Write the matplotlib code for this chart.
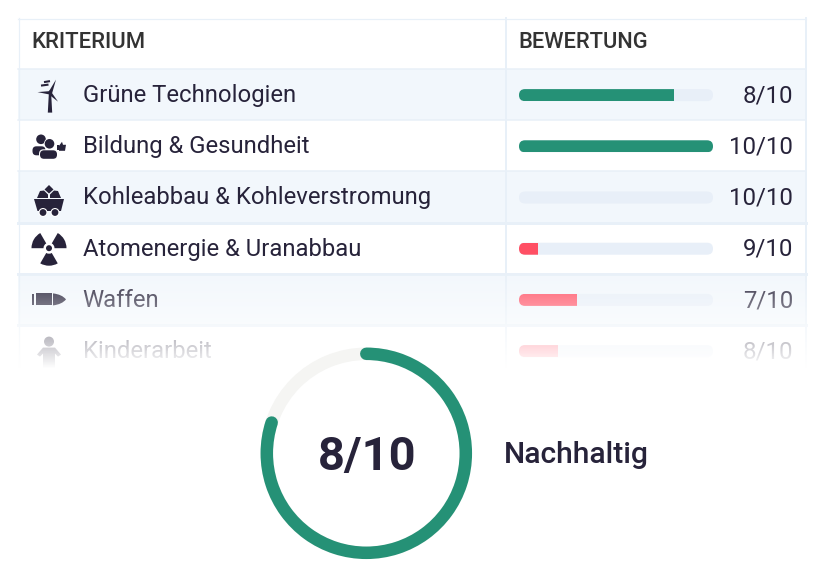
import numpy as np
import matplotlib
matplotlib.use('Agg')
import matplotlib.pyplot as plt
from matplotlib.patches import Arc, Circle, FancyBboxPatch, PathPatch, Polygon, Rectangle, Wedge
from matplotlib.path import Path

plt.rcParams['font.family'] = ['Roboto', 'DejaVu Sans']

criteria = ['Grüne Technologien', 'Bildung & Gesundheit', 'Kohleabbau & Kohleverstromung',
            'Atomenergie & Uranabbau', 'Waffen', 'Kinderarbeit']
rating_labels = ['8/10', '10/10', '10/10', '9/10', '7/10', '8/10']
bar_values = [0.8, 1.0, 0.0, 0.1, 0.3, 0.2]
bar_colors = ['#259176', '#259176', '#259176', '#ff4f64', '#ff4f64', '#ff4f64']
headers = ['KRITERIUM', 'BEWERTUNG']
total_value = 8
total_max = 10
total_label = '8/10'
total_text = 'Nachhaltig'

DARK = '#27233a'
GREEN = '#259176'
LINE = '#e8f0f8'
ROW_BG = '#f2f7fc'
TRACK = '#e8eff8'
PX = 0.72  # css px to points at dpi 100

fig = plt.figure(figsize=(8.22, 5.86), dpi=100)
ax = fig.add_axes([0, 0, 1, 1])
ax.set_xlim(0, 822)
ax.set_ylim(586, 0)
ax.axis('off')

top = 69
row_h = 51.2
bar_x = 519
bar_w = 194
bar_h = 12


# icons, drawn around a row centre
def icon_turbine(cy):
    x = 50
    ax.add_patch(Polygon([(x - 1, cy - 4), (x + 1, cy - 4), (x + 2.2, cy + 18), (x - 2.2, cy + 18)], color=DARK, lw=0))
    ax.add_patch(Polygon([(x - 1.8, cy - 2), (x + 6, cy - 15), (x + 2, cy - 1)], color=DARK, lw=0))
    ax.add_patch(Polygon([(x + 1, cy - 3), (x + 8, cy + 7), (x - 1, cy)], color=DARK, lw=0))
    ax.add_patch(Polygon([(x, cy - 3.5), (x - 12.5, cy - 2.5), (x, cy)], color=DARK, lw=0))
    for x0, x1, yy in [(44, 50, cy - 13), (41, 48.5, cy - 9.5)]:
        ax.plot([x0, x1], [yy + 0.5, yy - 0.5], color=DARK, lw=1.5, solid_capstyle='butt')


def icon_people(cy):
    ax.add_patch(Circle((41, cy - 6.5), 4.8, color=DARK, lw=0))
    ax.add_patch(FancyBboxPatch((32.5, cy + 0.5), 13, 9, boxstyle='round,pad=0,rounding_size=4', color=DARK, lw=0))
    ax.add_patch(Circle((49.5, cy - 2), 5.6, color='white', lw=0))
    ax.add_patch(Circle((49.5, cy - 2), 4.8, color=DARK, lw=0))
    ax.add_patch(FancyBboxPatch((39, cy + 3.5), 19, 10.5, boxstyle='round,pad=0,rounding_size=4.5', color='white', lw=0))
    ax.add_patch(FancyBboxPatch((40, cy + 4.5), 17, 8.5, boxstyle='round,pad=0,rounding_size=4', color=DARK, lw=0))
    ax.add_patch(Rectangle((56.5, cy - 0.5), 2, 5, color=DARK, lw=0))
    ax.add_patch(Polygon([(59, cy + 0), (62, cy - 4), (63, cy - 1), (66, cy - 1),
                          (65, cy + 5), (59, cy + 5)], color=DARK, lw=0))


def icon_cart(cy):
    ax.add_patch(Polygon([(34, cy + 2), (64, cy + 2), (61, cy + 14), (37.5, cy + 14)], color=DARK, lw=0))
    ax.add_patch(Polygon([(49, cy - 12), (53.5, cy - 7.5), (49, cy - 3.5), (44.5, cy - 7.5)], color=DARK, lw=0))
    ax.add_patch(Polygon([(37, cy + 1), (40, cy - 6), (44, cy - 6.5), (48, cy - 2.5), (48, cy + 1)], color=DARK, lw=0))
    ax.add_patch(Polygon([(50, cy + 1), (50, cy - 2.5), (54, cy - 6.5), (58, cy - 6), (61, cy + 1)], color=DARK, lw=0))
    for wx in [43, 55]:
        ax.add_patch(Circle((wx, cy + 15.5), 4.5, color='white', lw=0))
        ax.add_patch(Circle((wx, cy + 15.5), 3.4, color=DARK, lw=0))


def icon_radiation(cy):
    c = (49, cy)
    ax.add_patch(Circle(c, 3, color=DARK, lw=0))
    for ang in [90, 210, 330]:
        ax.add_patch(Wedge(c, 17.5, ang - 30, ang + 30, width=12, color=DARK, lw=0))


def icon_bullet(cy):
    ax.add_patch(Rectangle((32, cy - 5.5), 2, 11, color=DARK, lw=0))
    ax.add_patch(Rectangle((36, cy - 6), 16, 12, color=DARK, lw=0))
    verts = [(53, cy - 6), (62, cy - 5), (66, cy), (62, cy + 5), (53, cy + 6), (53, cy - 6)]
    codes = [Path.MOVETO, Path.CURVE3, Path.CURVE3, Path.CURVE3, Path.CURVE3, Path.CLOSEPOLY]
    ax.add_patch(PathPatch(Path(verts, codes), color=DARK, lw=0))


def icon_child(cy):
    ax.add_patch(Circle((49, cy - 9), 5, color=DARK, lw=0))
    ax.add_patch(Polygon([(43, cy - 3), (55, cy - 3), (61, cy + 4), (58, cy + 6), (55, cy + 3),
                          (55, cy + 19), (43, cy + 19), (43, cy + 3), (40, cy + 6), (37, cy + 4)],
                         color=DARK, lw=0))


icons = [icon_turbine, icon_people, icon_cart, icon_radiation, icon_bullet, icon_child]

# table rows
for i, name in enumerate(criteria):
    y0 = top + i * row_h
    cy = y0 + row_h / 2
    if i % 2 == 0:
        ax.add_patch(Rectangle((18, y0), 788, row_h, color=ROW_BG, lw=0, zorder=0))
    ax.plot([18, 806], [y0, y0], color=LINE, lw=1.5 * PX if i < 3 else 3 * PX, zorder=1)
    icons[i](cy)
    ax.text(82.5, cy + 7.4, name, fontsize=23.85 * PX, color=DARK, va='baseline', ha='left')
    ax.text(793.3, cy + 7.6, rating_labels[i], fontsize=24 * PX, color=DARK, va='baseline', ha='right')

    track = FancyBboxPatch((bar_x, cy - bar_h / 2 + 0.5), bar_w, bar_h,
                           boxstyle='round,pad=0,rounding_size=6', color=TRACK, lw=0, zorder=2)
    ax.add_patch(track)
    bars = ax.barh(cy + 0.5, bar_values[i] * bar_w, left=bar_x, height=bar_h, color=bar_colors[i], lw=0, zorder=3)
    for b in bars:
        b.set_clip_path(track)

# header and borders
ax.text(31.5, 47.5, headers[0], fontsize=22.2 * PX, color='#333333', weight='medium', va='baseline')
ax.text(518.5, 47.5, headers[1], fontsize=21.9 * PX, color='#333333', weight='medium', va='baseline')
ax.plot([18, 806], [18.5, 18.5], color=LINE, lw=1.2 * PX, zorder=1)
ax.plot([18.5, 18.5], [18, 380], color=LINE, lw=1.2 * PX, zorder=1)
ax.plot([506, 506], [18, 380], color=LINE, lw=2 * PX, zorder=1)
ax.plot([805.5, 805.5], [18, 380], color=LINE, lw=2 * PX, zorder=1)

# white fade over the bottom of the table
grad = np.ones((200, 2, 4))
grad[:, :, 3] = np.linspace(0, 1, 200)[:, None]
ax.imshow(grad, extent=(0, 822, 368, 268), aspect='auto', origin='upper', zorder=5, interpolation='bilinear')
ax.add_patch(Rectangle((0, 367.5), 822, 30, color='white', lw=0, zorder=5))
ax.set_xlim(0, 822)
ax.set_ylim(586, 0)

# score ring
ring_c = (366.3, 453.3)
ring_d = 199
ring_lw = 12.5 * PX
ax.add_patch(Arc(ring_c, ring_d, ring_d, theta1=0, theta2=360, color='#f5f5f3', lw=ring_lw, zorder=6))
ax.add_patch(Arc(ring_c, ring_d, ring_d, theta1=-90, theta2=-90 + 360 * total_value / total_max,
                 color=GREEN, lw=ring_lw, capstyle='round', zorder=7))
ax.text(367, 470, total_label, fontsize=47 * PX, weight='bold', color=DARK, ha='center', va='baseline', zorder=8)
ax.text(504, 463, total_text, fontsize=30 * PX, weight='medium', color=DARK, ha='left', va='baseline', zorder=8)

fig.savefig('out.png', dpi=100, facecolor='white')
plt.close()
